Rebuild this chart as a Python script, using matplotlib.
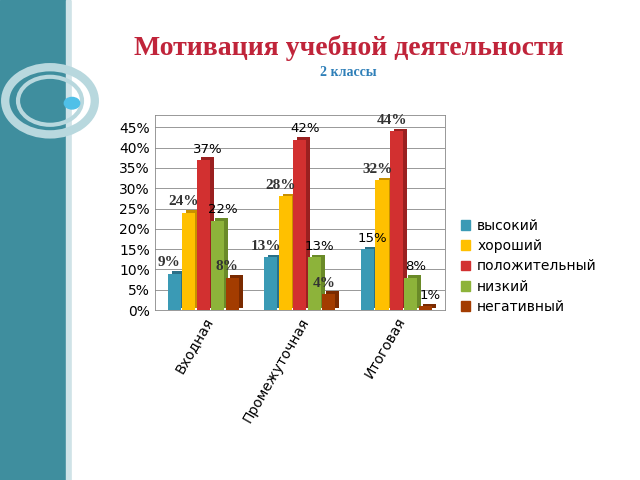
import numpy as np
import matplotlib.pyplot as plt
from matplotlib.patches import Rectangle, Circle

groups = ['Входная', 'Промежуточная', 'Итоговая']
series = ['высокий', 'хороший', 'положительный', 'низкий', 'негативный']
vysokiy = [9, 13, 15]
horoshiy = [24, 28, 32]
polozhit = [37, 42, 44]
nizkiy = [22, 13, 8]
negativ = [8, 4, 1]
values = [vysokiy, horoshiy, polozhit, nizkiy, negativ]
colors = ['#3A9AB5', '#FFC000', '#D23030', '#8DB33A', '#A33C00']
sides = ['#2A7088', '#C89000', '#9A2020', '#6A8A28', '#7A2A00']
# which labels look serif in the original slide
serif_lbl = [[True, True, False], [True, True, True], [False, False, True],
             [False, False, False], [True, True, False]]

fig = plt.figure(figsize=(6.4, 4.8), dpi=100)
fig.patch.set_facecolor('white')

# left decorative strip
fig.patches.append(Rectangle((0, 0), 70 / 640, 1, transform=fig.transFigure,
                             color='#3F8E9E', zorder=0))
fig.patches.append(Rectangle((66 / 640, 0), 4 / 640, 1, transform=fig.transFigure,
                             color='#CFE3E8', zorder=0))
for r, lw in [(0.07, 6), (0.05, 3)]:
    fig.patches.append(Circle((50 / 640, 0.79), r, transform=fig.transFigure,
                              fill=False, ec='#B8D8DE', lw=lw, zorder=1))
fig.patches.append(Circle((72 / 640, 0.785), 0.012, transform=fig.transFigure,
                          color='#4FC0E8', zorder=2))

fig.text(0.545, 0.9, 'Мотивация учебной деятельности', ha='center', va='center',
         fontsize=20, fontweight='bold', family='Liberation Serif', color='#C0243A')
fig.text(0.545, 0.848, '2 классы', ha='center', va='center', fontsize=10,
         fontweight='bold', family='Liberation Serif', color='#2E7FB8')

ax = fig.add_axes([0.242, 0.354, 0.453, 0.406])
x = np.arange(len(groups))
w = 0.15
for i, (vals, c, sc) in enumerate(zip(values, colors, sides)):
    pos = x + (i - 2) * w
    ax.bar(pos + 0.04, vals, w * 0.9, bottom=0.6, color=sc, zorder=2)
    ax.bar(pos, vals, w * 0.9, color=c, zorder=3)
    for j, v in enumerate(vals):
        if serif_lbl[i][j]:
            ax.text(pos[j] - 0.05, v + 1.8, f'{v}%', ha='center', fontsize=11,
                    family='Liberation Serif', fontweight='bold', color='#333333', zorder=5)
        else:
            ax.text(pos[j] + 0.05, v + 1.8, f'{v}%', ha='center', fontsize=9.5,
                    color='black', zorder=5)

ax.set_ylim(0, 48)
ax.set_xlim(-0.5, 2.5)
ax.set_yticks(range(0, 46, 5))
ax.set_yticklabels([f'{t}%' for t in range(0, 46, 5)], fontsize=10)
ax.set_xticks(x)
ax.set_xticklabels(groups, rotation=60, ha='right', rotation_mode='anchor', fontsize=10)
ax.grid(axis='y', color='#888888', lw=0.6, zorder=0)
ax.tick_params(length=0)
for s in ax.spines.values():
    s.set_color('#888888')
    s.set_linewidth(0.6)

handles = [Rectangle((0, 0), 1, 1, color=c) for c in colors]
fig.legend(handles, series, loc='center left', bbox_to_anchor=(0.7, 0.445),
           frameon=False, fontsize=10, handlelength=0.7, handleheight=0.7,
           labelspacing=0.45, handletextpad=0.5)

fig.savefig('out.png', dpi=100)
